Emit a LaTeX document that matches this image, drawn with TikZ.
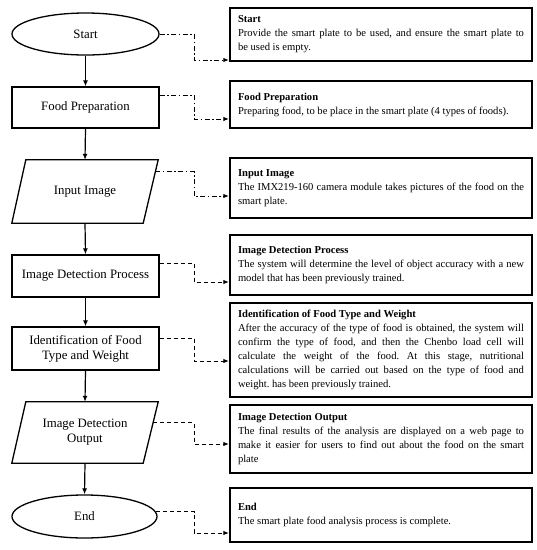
\documentclass[tikz,border=0pt]{standalone}
\usepackage{fontspec}
\setmainfont{Liberation Serif}
\usetikzlibrary{shapes.geometric,arrows.meta,calc}
\tikzset{
  lefttext/.style={inner sep=0pt, align=center, font=\fontsize{12.8}{15}\selectfont},
  leftshape/.style={lefttext, draw=black, line width=1.3pt},
  startend/.style={leftshape, ellipse},
  procbox/.style={leftshape, rectangle},
  iobox/.style={lefttext, rectangle},
  iooutline/.style={draw=black, line width=1.3pt, line join=miter},
  rbox/.style={draw=black, line width=2.4pt, rectangle, inner xsep=8pt, inner ysep=0pt, text width=286pt, minimum width=302pt, align=justify, font=\fontsize{10.6}{14}\selectfont\frenchspacing},
  flow/.style={line width=1.2pt, -{Latex[length=6pt,width=5pt]}},
  dashdotlink/.style={line width=0.9pt, dash pattern=on 5pt off 2.5pt on 1.5pt off 2.5pt, -{Latex[length=5.5pt,width=4.5pt]}},
  dashlink/.style={line width=0.9pt, dash pattern=on 4pt off 3pt, -{Latex[length=5.5pt,width=4.5pt]}}
}
\begin{document}
\begin{tikzpicture}[x=1pt,y=-1pt]
\useasboundingbox[fill=white] (0,0) rectangle (537,550);
% left column
\node[startend, minimum width=147pt, minimum height=42pt] (s) at (85.5,34) {Start};
\node[procbox, minimum width=147pt, minimum height=41pt] (fp) at (85.5,107.5) {Food Preparation};
\node[iobox, minimum width=146pt, minimum height=63pt] (ii) at (85,191.5) {Input Image};
\node[procbox, minimum width=147pt, minimum height=42pt] (idp) at (85.5,276) {Image Detection Process};
\node[procbox, minimum width=147pt, minimum height=43pt] (ift) at (85.5,348.5) {Identification of Food\\Type and Weight};
\node[iobox, minimum width=146pt, minimum height=61pt] (ido) at (85,432.5) {Image Detection\\Output};
\node[startend, minimum width=145pt, minimum height=43pt] (e) at (84.5,516.5) {End};
% parallelogram outlines
\draw[iooutline] ([xshift=14pt]ii.north west) -- (ii.north east) -- ([xshift=-15pt]ii.south east) -- (ii.south west) -- cycle;
\draw[iooutline] ([xshift=14pt]ido.north west) -- (ido.north east) -- ([xshift=-15pt]ido.south east) -- (ido.south west) -- cycle;
% right column
\node[rbox, minimum height=53pt] (b1) at (381,34.5) {\textbf{Start}\\Provide the smart plate to be used, and ensure the smart plate to\linebreak be used is empty.};
\node[rbox, minimum height=47pt] (b2) at (381,104.5) {\textbf{Food Preparation}\\Preparing food, to be place in the smart plate (4 types of foods).};
\node[rbox, minimum height=60pt] (b3) at (381,188) {\textbf{Input Image}\\The IMX219-160 camera module takes pictures of the food on the\linebreak smart plate.};
\node[rbox, minimum height=60pt] (b4) at (381,265) {\textbf{Image Detection Process}\\The system will determine the level of object accuracy with a new\linebreak model that has been previously trained.};
\node[rbox, minimum height=94pt] (b5) at (381,350) {\textbf{Identification of Food Type and Weight}\\After the accuracy of the type of food is obtained, the system will\linebreak confirm the type of food, and then the Chenbo load cell will\linebreak calculate the weight of the food. At this stage, nutritional\linebreak calculations will be carried out based on the type of food and\linebreak weight. has been previously trained.};
\node[rbox, minimum height=68pt] (b6) at (381,439) {\textbf{Image Detection Output}\\The final results of the analysis are displayed on a web page to\linebreak make it easier for users to find out about the food on the smart\linebreak plate};
\node[rbox, minimum height=54pt] (b7) at (381,515) {\textbf{End}\\The smart plate food analysis process is complete.};
% flow arrows
\draw[flow] (s.south) -- (fp.north);
\draw[flow] (fp.south) -- (ii.north);
\draw[flow] (ii.south) -- (idp.north);
\draw[flow] (idp.south) -- (ift.north);
\draw[flow] (ift.south) -- (ido.north);
\draw[flow] (ido.south) -- (e.north);
% links to descriptions
\coordinate (p1) at (s.east);
\coordinate (p2) at (fp.east |- 0,95);
\coordinate (p3) at ($(ii.north east)!0.19!([xshift=-15pt]ii.south east)$);
\coordinate (p4) at (idp.east |- 0,263);
\coordinate (p5) at (ift.east |- 0,338);
\coordinate (p6) at ($(ido.north east)!0.34!([xshift=-15pt]ido.south east)$);
\coordinate (p7) at (e.4);
\draw[dashdotlink] (p1) -- (p1 -| 194,0) |- (b1.west |- 0,60);
\draw[dashdotlink] (p2) -- (p2 -| 194,0) |- (b2.west |- 0,119);
\draw[dashdotlink] (p3) -- (p3 -| 194,0) |- (b3.west |- 0,196);
\draw[dashlink] (p4) -- (p4 -| 194,0) |- (b4.west |- 0,282);
\draw[dashlink] (p5) -- (p5 -| 194,0) |- (b5.west |- 0,361);
\draw[dashlink] (p6) -- (p6 -| 194,0) |- (b6.west |- 0,444);
\draw[dashlink] (p7) -- (p7 -| 194,0) |- (b7.west |- 0,533);
\end{tikzpicture}
\end{document}
